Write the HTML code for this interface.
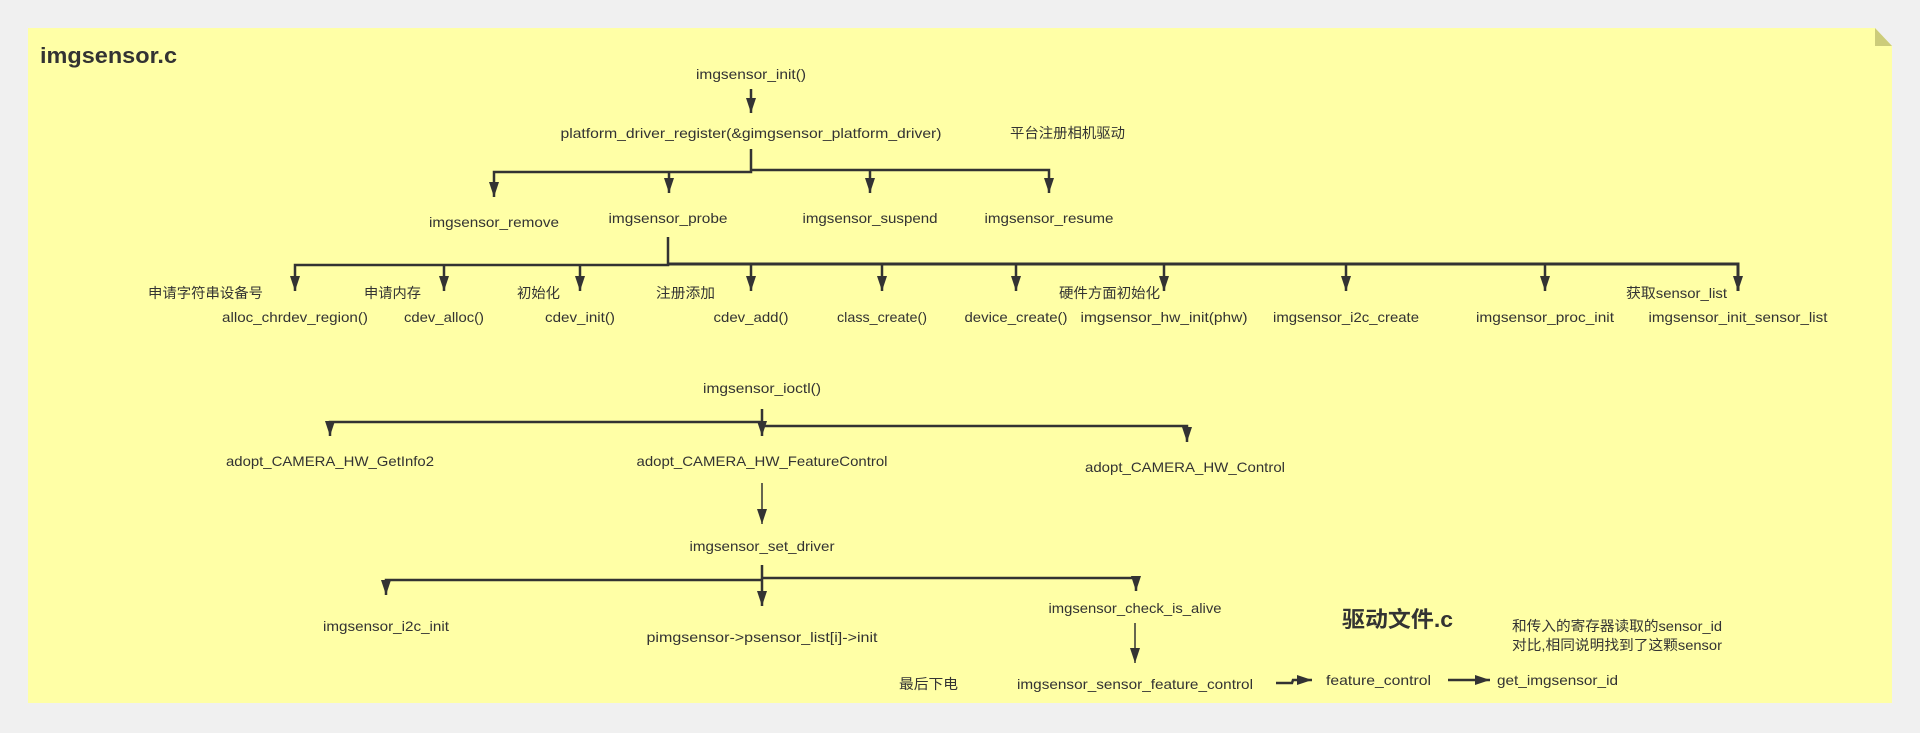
<!DOCTYPE html>
<html><head><meta charset="utf-8"><style>
html,body{margin:0;padding:0;background:#f0f0f0;}
svg{display:block}
text{font-family:"Liberation Sans","Noto Sans CJK SC",sans-serif;fill:#333;font-size:14px}
.b{font-weight:bold;font-size:22px}
</style></head><body>
<svg width="1920" height="733" viewBox="0 0 1920 733" xmlns="http://www.w3.org/2000/svg">
<defs>
<marker id="a" markerWidth="15" markerHeight="10" refX="15" refY="5" orient="auto" markerUnits="userSpaceOnUse" viewBox="0 0 15 10">
<path d="M0,0 L15,5 L0,10 Z" fill="#333"/></marker>
</defs>
<polygon points="28,28 1875,28 1892,46 1892,703 28,703" fill="#ffffa6"/>
<polygon points="1875,28 1892,46 1875,46" fill="#cccc7a"/>

<g stroke="#333" stroke-width="2.5" fill="none">
<line x1="751" y1="89" x2="751" y2="113" marker-end="url(#a)"/>
<polyline points="751,149 751,172 494,172 494,197" marker-end="url(#a)"/>
<polyline points="669,172 669,193" marker-end="url(#a)"/>
<polyline points="751,170 1049,170 1049,193" marker-end="url(#a)"/>
<polyline points="870,170 870,193" marker-end="url(#a)"/>
<polyline points="668,237 668,265 295,265 295,291" marker-end="url(#a)"/>
<polyline points="668,264 1738,264 1738,291" marker-end="url(#a)" stroke-width="3"/>
<line x1="444" y1="265" x2="444" y2="291" marker-end="url(#a)"/>
<line x1="580" y1="265" x2="580" y2="291" marker-end="url(#a)"/>
<line x1="751" y1="264" x2="751" y2="291" marker-end="url(#a)"/>
<line x1="882" y1="264" x2="882" y2="291" marker-end="url(#a)"/>
<line x1="1016" y1="264" x2="1016" y2="291" marker-end="url(#a)"/>
<line x1="1164" y1="264" x2="1164" y2="291" marker-end="url(#a)"/>
<line x1="1346" y1="264" x2="1346" y2="291" marker-end="url(#a)"/>
<line x1="1545" y1="264" x2="1545" y2="291" marker-end="url(#a)"/>
<polyline points="762,409 762,436" marker-end="url(#a)"/>
<polyline points="762,422 330,422 330,436" marker-end="url(#a)"/>
<polyline points="762,426 1187,426 1187,442" marker-end="url(#a)"/>
<line x1="762" y1="483" x2="762" y2="524" marker-end="url(#a)" stroke-width="1.5"/>
<polyline points="762,565 762,606" marker-end="url(#a)"/>
<polyline points="762,580 386,580 386,595" marker-end="url(#a)"/>
<polyline points="762,578 1136,578 1136,591" marker-end="url(#a)"/>
<line x1="1135" y1="623" x2="1135" y2="663" marker-end="url(#a)" stroke-width="1.5"/>
<polyline points="1276,683 1292,683 1293,680 1312,680" marker-end="url(#a)"/>
<line x1="1448" y1="680" x2="1490" y2="680" marker-end="url(#a)"/>
</g>

<text class="b" x="40" y="63" textLength="137" lengthAdjust="spacingAndGlyphs">imgsensor.c</text>
<g text-anchor="middle">
<text x="751" y="79" textLength="110" lengthAdjust="spacingAndGlyphs">imgsensor_init()</text>
<text x="751" y="138" textLength="381" lengthAdjust="spacingAndGlyphs">platform_driver_register(&amp;gimgsensor_platform_driver)</text>
<text x="494" y="227" textLength="130" lengthAdjust="spacingAndGlyphs">imgsensor_remove</text>
<text x="668" y="223" textLength="119" lengthAdjust="spacingAndGlyphs">imgsensor_probe</text>
<text x="870" y="223" textLength="135" lengthAdjust="spacingAndGlyphs">imgsensor_suspend</text>
<text x="1049" y="223" textLength="129" lengthAdjust="spacingAndGlyphs">imgsensor_resume</text>

<text x="295" y="322" textLength="146" lengthAdjust="spacingAndGlyphs">alloc_chrdev_region()</text>
<text x="444" y="322" textLength="80" lengthAdjust="spacingAndGlyphs">cdev_alloc()</text>
<text x="580" y="322" textLength="70" lengthAdjust="spacingAndGlyphs">cdev_init()</text>
<text x="751" y="322" textLength="75" lengthAdjust="spacingAndGlyphs">cdev_add()</text>
<text x="882" y="322" textLength="90" lengthAdjust="spacingAndGlyphs">class_create()</text>
<text x="1016" y="322" textLength="103" lengthAdjust="spacingAndGlyphs">device_create()</text>
<text x="1164" y="322" textLength="167" lengthAdjust="spacingAndGlyphs">imgsensor_hw_init(phw)</text>
<text x="1346" y="322" textLength="146" lengthAdjust="spacingAndGlyphs">imgsensor_i2c_create</text>
<text x="1545" y="322" textLength="138" lengthAdjust="spacingAndGlyphs">imgsensor_proc_init</text>
<text x="1738" y="322" textLength="179" lengthAdjust="spacingAndGlyphs">imgsensor_init_sensor_list</text>

<text x="762" y="393" textLength="118" lengthAdjust="spacingAndGlyphs">imgsensor_ioctl()</text>
<text x="330" y="466" textLength="208" lengthAdjust="spacingAndGlyphs">adopt_CAMERA_HW_GetInfo2</text>
<text x="762" y="466" textLength="251" lengthAdjust="spacingAndGlyphs">adopt_CAMERA_HW_FeatureControl</text>
<text x="1185" y="472" textLength="200" lengthAdjust="spacingAndGlyphs">adopt_CAMERA_HW_Control</text>
<text x="762" y="551" textLength="145" lengthAdjust="spacingAndGlyphs">imgsensor_set_driver</text>
<text x="386" y="631" textLength="126" lengthAdjust="spacingAndGlyphs">imgsensor_i2c_init</text>
<text x="762" y="642" textLength="231" lengthAdjust="spacingAndGlyphs">pimgsensor-&gt;psensor_list[i]-&gt;init</text>
<text x="1135" y="613" textLength="173" lengthAdjust="spacingAndGlyphs">imgsensor_check_is_alive</text>
<text x="1135" y="689" textLength="236" lengthAdjust="spacingAndGlyphs">imgsensor_sensor_feature_control</text>
</g>
<text x="1010" y="138" textLength="115" lengthAdjust="spacingAndGlyphs">平台注册相机驱动</text>
<text x="148" y="298" textLength="115" lengthAdjust="spacingAndGlyphs">申请字符串设备号</text>
<text x="364" y="298" textLength="57" lengthAdjust="spacingAndGlyphs">申请内存</text>
<text x="517" y="298" textLength="43" lengthAdjust="spacingAndGlyphs">初始化</text>
<text x="656" y="298" textLength="59" lengthAdjust="spacingAndGlyphs">注册添加</text>
<text x="1059" y="298" textLength="101" lengthAdjust="spacingAndGlyphs">硬件方面初始化</text>
<text x="1626" y="298" textLength="101" lengthAdjust="spacingAndGlyphs">获取sensor_list</text>
<text x="899" y="689" textLength="59" lengthAdjust="spacingAndGlyphs">最后下电</text>
<text x="1326" y="685" textLength="105" lengthAdjust="spacingAndGlyphs">feature_control</text>
<text x="1497" y="685" textLength="121" lengthAdjust="spacingAndGlyphs">get_imgsensor_id</text>
<text class="b" x="1342" y="627" textLength="111" lengthAdjust="spacingAndGlyphs">驱动文件.c</text>
<text x="1512" y="631" textLength="210" lengthAdjust="spacingAndGlyphs" font-size="13">和传入的寄存器读取的sensor_id</text>
<text x="1512" y="650" textLength="210" lengthAdjust="spacingAndGlyphs" font-size="13">对比,相同说明找到了这颗sensor</text>
</svg>
</body></html>
